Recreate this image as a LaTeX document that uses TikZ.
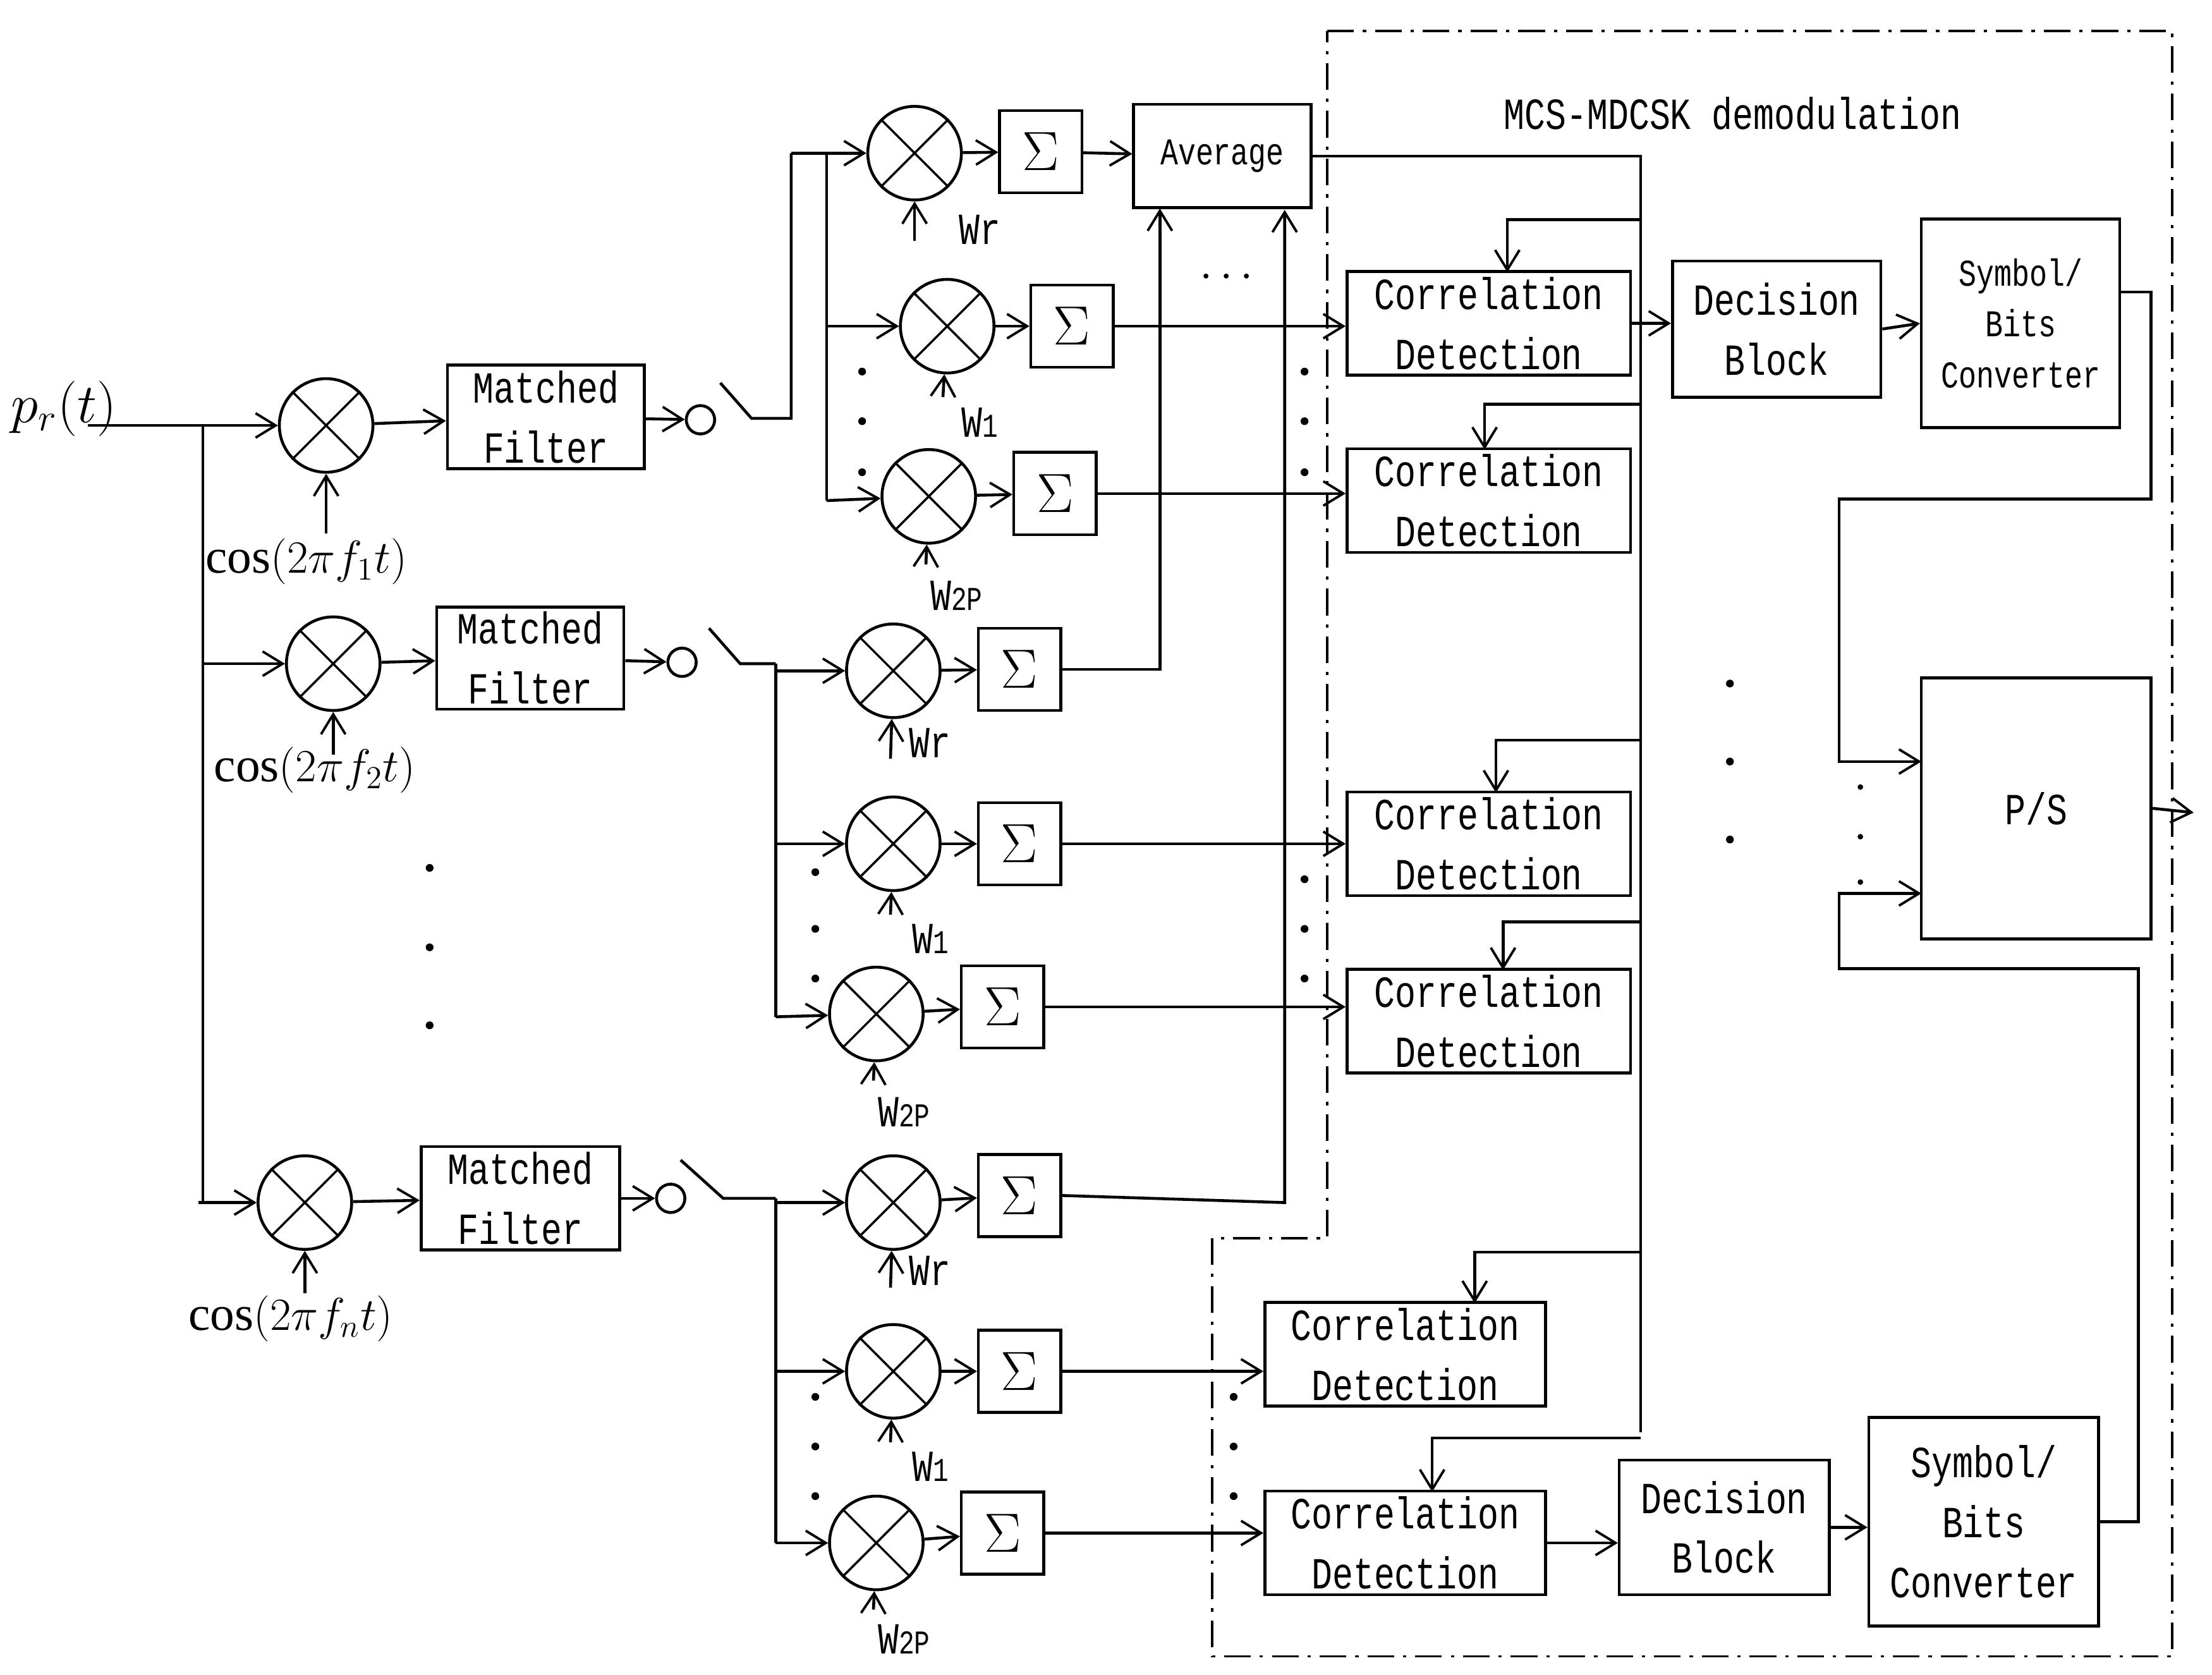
\documentclass[tikz,border=0pt]{standalone}
\usepackage{fontspec}
\setmainfont{Liberation Serif}
\newfontfamily\cfont{Liberation Mono}[FakeStretch=0.78]
\usetikzlibrary{arrows.meta}
\def\u{0.022436cm}
\begin{document}
\begin{tikzpicture}[x=0.022436cm,y=-0.022436cm,
  line width=1.3pt,
  arr/.style={-{Straight Barb[length=9pt,width=11pt,line width=1.1pt]}},
  mix/.style={circle,draw,minimum size=66*\u,inner sep=0pt},
  sig/.style={draw,minimum width=58*\u,minimum height=58*\u,inner sep=0pt,font=\fontsize{34}{34}\selectfont},
  blk/.style={draw,align=center,inner sep=0pt,font=\cfont\fontsize{20}{27}\selectfont},
  sw/.style={circle,draw,minimum size=20*\u,inner sep=0pt},
  lab/.style={font=\cfont\fontsize{20}{20}\selectfont,anchor=west},
  mlab/.style={font=\fontsize{22}{22}\selectfont},
  dot/.style={circle,fill,inner sep=0pt,minimum size=3.5pt},
  dd/.style={dash pattern=on 12pt off 4pt on 1.5pt off 4pt,line width=1.1pt}]
\useasboundingbox (0,0) rectangle (1560,1181);
\newcommand{\xmix}[3]{\node[mix] (#1) at (#2,#3) {};
  \draw[line width=1pt] (#1.45)--(#1.225) (#1.135)--(#1.-45);}
% input
\node[mlab,font=\fontsize{24}{24}\selectfont] (pin) at (45,288) {$p_r(t)$};
\coordinate (pa) at (62,300);
\xmix{m1}{230}{300}
\xmix{m2}{235}{468}
\xmix{m3}{215}{848}
\draw[arr] (pa) -- (m1);
\draw (143,300) -- (143,848);
\draw[arr] (143,468) -- (m2);
\draw[arr] (140,848) -- (m3);
\node[mlab] (c1) at (216,396) {$\cos(2\pi f_1 t)$};
\node[mlab] (c2) at (222,543) {$\cos(2\pi f_2 t)$};
\node[mlab] (c3) at (205,930) {$\cos(2\pi f_n t)$};
\draw[arr] (230,376) -- (m1);
\draw[arr] (235,532) -- (m2);
\draw[arr] (215,912) -- (m3);
% matched filters
\node[blk,minimum width=139*\u,minimum height=73*\u] (f1) at (385,294) {Matched\\Filter};
\node[blk,minimum width=132*\u,minimum height=72*\u] (f2) at (374,464) {Matched\\Filter};
\node[blk,minimum width=140*\u,minimum height=73*\u] (f3) at (367,845) {Matched\\Filter};
\draw[arr] (m1) -- (f1);
\draw[arr] (m2) -- (f2);
\draw[arr] (m3) -- (f3);
\node[sw] (s1) at (494,296) {};
\node[sw] (s2) at (481,467) {};
\node[sw] (s3) at (473,845) {};
\draw[arr] (f1) -- (s1);
\draw[arr] (f2) -- (s2);
\draw[arr] (f3) -- (s3);
\draw (508,270) -- (530,295) -- (558,295) -- (558,108);
\draw (500,443) -- (522,468) -- (547,468);
\draw (480,818) -- (510,845) -- (547,845);
% branch 1
\xmix{a1}{645}{108}
\xmix{a2}{668}{230}
\xmix{a3}{655}{350}
\draw[arr] (558,108) -- (a1);
\draw (583,108) -- (583,353);
\draw[arr] (583,230) -- (a2);
\draw[arr] (583,353) -- (a3);
\node[sig] (sa1) at (734,107) {$\Sigma$};
\node[sig] (sa2) at (756,230) {$\Sigma$};
\node[sig] (sa3) at (744,348) {$\Sigma$};
\draw[arr] (a1) -- (sa1); \draw[arr] (a2) -- (sa2); \draw[arr] (a3) -- (sa3);
\draw[arr] (645,170) -- (a1); \node[lab] (wa1) at (670,162) {Wr};
\draw[arr] (665,280) -- (a2); \node[lab] (wa2) at (672,298) {W{\fontsize{15}{15}\selectfont 1}};
\draw[arr] (653,398) -- (a3); \node[lab] (wa3) at (650,420) {W{\fontsize{15}{15}\selectfont 2P}};
\foreach \yy in {262,297,333} \node[dot] at (608,\yy) {};
% average
\node[blk,minimum width=125*\u,minimum height=73*\u,font=\cfont\fontsize{17}{20}\selectfont] (avg) at (862,110) {Average};
\draw[arr] (sa1) -- (avg);
\node[font=\fontsize{20}{20}\selectfont] (ell) at (865,196) {$\cdots$};
% branch 2
\xmix{b1}{630}{473}
\xmix{b2}{630}{595}
\xmix{b3}{618}{715}
\draw (547,468) -- (547,717);
\draw[arr] (547,473) -- (b1);
\draw[arr] (547,595) -- (b2);
\draw[arr] (547,717) -- (b3);
\node[sig] (sb1) at (719,472) {$\Sigma$};
\node[sig] (sb2) at (719,595) {$\Sigma$};
\node[sig] (sb3) at (707,710) {$\Sigma$};
\draw[arr] (b1) -- (sb1); \draw[arr] (b2) -- (sb2); \draw[arr] (b3) -- (sb3);
\draw[arr] (628,535) -- (b1); \node[lab] (wb1) at (635,524) {Wr};
\draw[arr] (628,645) -- (b2); \node[lab] (wb2) at (637,662) {W{\fontsize{15}{15}\selectfont 1}};
\draw[arr] (616,762) -- (b3); \node[lab] (wb3) at (613,784) {W{\fontsize{15}{15}\selectfont 2P}};
\foreach \yy in {615,655,690} \node[dot] at (575,\yy) {};
\draw[arr] (sb1.east) -- (818,472) -- (818,147);
% branch n
\xmix{n1}{630}{848}
\xmix{n2}{630}{967}
\xmix{n3}{618}{1088}
\draw (547,845) -- (547,1088);
\draw[arr] (547,848) -- (n1);
\draw[arr] (547,967) -- (n2);
\draw[arr] (547,1088) -- (n3);
\node[sig] (sn1) at (719,843) {$\Sigma$};
\node[sig] (sn2) at (719,967) {$\Sigma$};
\node[sig] (sn3) at (707,1081) {$\Sigma$};
\draw[arr] (n1) -- (sn1); \draw[arr] (n2) -- (sn2); \draw[arr] (n3) -- (sn3);
\draw[arr] (628,908) -- (n1); \node[lab] (wn1) at (635,896) {Wr};
\draw[arr] (628,1017) -- (n2); \node[lab] (wn2) at (637,1034) {W{\fontsize{15}{15}\selectfont 1}};
\draw[arr] (616,1135) -- (n3); \node[lab] (wn3) at (613,1156) {W{\fontsize{15}{15}\selectfont 2P}};
\foreach \yy in {985,1020,1055} \node[dot] at (575,\yy) {};
\draw[arr] (sn1.east) -- (906,848) -- (906,148);
\foreach \yy in {612,668,723} \node[dot] at (303,\yy) {};
\foreach \yy in {262,297,333,620,655,690} \node[dot] at (920,\yy) {};
\foreach \yy in {985,1020,1055} \node[dot] at (870,\yy) {};
% correlation detection
\node[blk,minimum width=200*\u,minimum height=73*\u] (d1) at (1050,228) {Correlation\\Detection};
\node[blk,minimum width=200*\u,minimum height=73*\u] (d2) at (1050,353) {Correlation\\Detection};
\node[blk,minimum width=200*\u,minimum height=73*\u] (d3) at (1050,595) {Correlation\\Detection};
\node[blk,minimum width=200*\u,minimum height=73*\u] (d4) at (1050,720) {Correlation\\Detection};
\node[blk,minimum width=198*\u,minimum height=73*\u] (d5) at (991,955) {Correlation\\Detection};
\node[blk,minimum width=198*\u,minimum height=73*\u] (d6) at (991,1088) {Correlation\\Detection};
\draw[arr] (sa2.east) -- (sa2.east -| d1.west);
\draw[arr] (sa3.east) -- (sa3.east -| d2.west);
\draw[arr] (sb2.east) -- (sb2.east -| d3.west);
\draw[arr] (sb3.east) -- (sb3.east -| d4.west);
\draw[arr] (sn2.east) -- (sn2.east -| d5.west);
\draw[arr] (sn3.east) -- (sn3.east -| d6.west);
% average distribution
\draw (avg.east) -- (1157,110) -- (1157,1010);
\draw[arr] (1157,155) -- (1063,155) -- (1063,192);
\draw[arr] (1157,285) -- (1047,285) -- (1047,317);
\draw[arr] (1157,522) -- (1055,522) -- (1055,559);
\draw[arr] (1157,650) -- (1060,650) -- (1060,684);
\draw[arr] (1157,883) -- (1040,883) -- (1040,919);
\draw[arr] (1157,1014) -- (1010,1014) -- (1010,1052);
% decision / symbol
\node[blk,minimum width=147*\u,minimum height=96*\u] (db1) at (1253,232) {Decision\\Block};
\node[blk,minimum width=140*\u,minimum height=147*\u,font=\cfont\fontsize{17}{23}\selectfont] (sb1x) at (1425,228) {Symbol/\\Bits\\Converter};
\draw[arr] (d1.east) -- (d1.east -| db1.west);
\draw[arr] (db1.east) -- (sb1x.west);
\node[blk,minimum width=148*\u,minimum height=95*\u] (db2) at (1216,1077) {Decision\\Block};
\node[blk,minimum width=162*\u,minimum height=147*\u] (sb2x) at (1399,1073) {Symbol/\\Bits\\Converter};
\draw[arr] (d6.east) -- (d6.east -| db2.west);
\draw[arr] (db2.east) -- (db2.east -| sb2x.west);
\node[blk,minimum width=162*\u,minimum height=184*\u] (ps) at (1436,570) {P/S};
\draw[arr] (1495,206) -- (1517,206) -- (1517,352) -- (1297,352) -- (1297,537) -- (1355,537);
\draw[arr] (1480,1073) -- (1508,1073) -- (1508,683) -- (1297,683) -- (1297,630) -- (1355,630);
\draw[arr] (ps.east) -- (1547,573);
\foreach \yy in {482,537,592} \node[dot] at (1220,\yy) {};
\foreach \yy in {555,590,622} \node[dot,minimum size=2.5pt] at (1312,\yy) {};
% demodulation region
\draw[dd] (936,22) -- (1532,22) -- (1532,1168) -- (855,1168) -- (855,873) -- (936,873) -- cycle;
\node[font=\cfont\fontsize{20}{20}\selectfont] (title) at (1222,80) {MCS-MDCSK demodulation};
\end{tikzpicture}
\end{document}
